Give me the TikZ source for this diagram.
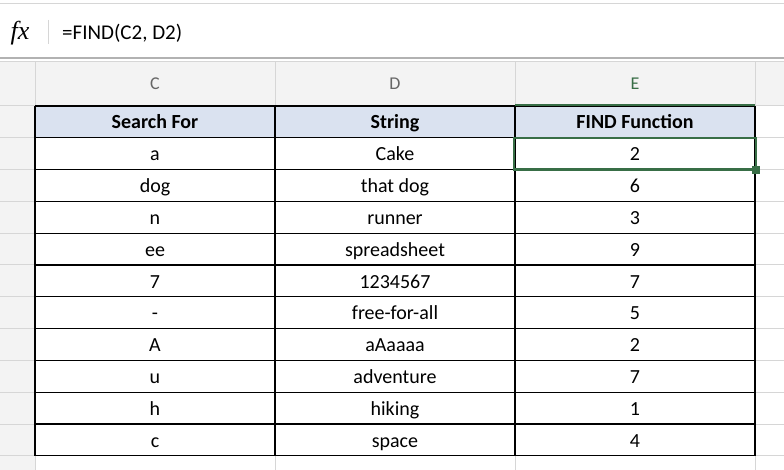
\documentclass[tikz,border=0pt]{standalone}
\usepackage{fontspec}
\setmainfont{Carlito}
\usepackage{tikz}
\definecolor{selgreen}{RGB}{56,110,70}
\definecolor{headblue}{RGB}{218,226,240}
\definecolor{gridgray}{RGB}{214,214,214}
\definecolor{barfill}{RGB}{243,243,243}
\begin{document}
\begin{tikzpicture}[x=1pt,y=-1pt,font=\fontsize{20}{22}\selectfont,
	cell/.style={anchor=base,inner sep=0pt},
	head cell/.style={cell,font=\fontsize{20}{22}\selectfont\bfseries},
	col letter/.style={cell,text=black!60,font=\fontsize{18}{20}\selectfont},
	grid line/.style={draw=gridgray,line width=1pt}]
	\useasboundingbox (0,0) rectangle (784,470);
	% formula bar and column header band
	\fill[white] (0,0) rectangle (784,58);
	\fill[barfill] (0,62) rectangle (784,106);
	\fill[barfill] (0,106) rectangle (35,470);
	\draw[grid line] (0,4) -- (784,4);
	\draw[draw=black!30,line width=1.5pt] (0,58) -- (784,58);
	\draw[grid line] (0,62) -- (784,62);
	\draw[grid line] (48,20) -- (48,44);
	\node[cell] (fx) at (20,40) {\fontspec{Liberation Serif}\itshape\fontsize{26}{28}\selectfont fx};
	\node[cell,anchor=base west] (formula) at (62,40) {\fontsize{21}{23}\selectfont =FIND(C2, D2)};
	% grid
	\foreach \x in {35,275,515,755}
		\draw[grid line] (\x,62) -- (\x,470);
	\foreach \i in {0,...,11}
		\draw[grid line] (0,106+31.8*\i) -- (784,106+31.8*\i);
	% column letters
	\node[col letter] (C) at (155,90) {C};
	\node[col letter] (D) at (395,90) {D};
	\node[col letter,text=selgreen] (E) at (635,90) {E};
	% header row
	\fill[headblue] (35,106) rectangle (755,137.8);
	\node[head cell] (h1) at (155,129) {Search For};
	\node[head cell] (h2) at (395,129) {String};
	\node[head cell] (h3) at (635,129) {FIND Function};
	% data rows
	\foreach \a/\b/\c [count=\i] in {a/Cake/2,dog/that dog/6,n/runner/3,ee/spreadsheet/9,
		7/1234567/7,-/free-for-all/5,A/aAaaaa/2,u/adventure/7,h/hiking/1,c/space/4}
	{
		\node[cell] (c\i) at (155,129+31.8*\i) {\a};
		\node[cell] (d\i) at (395,129+31.8*\i) {\b};
		\node[cell] (e\i) at (635,129+31.8*\i) {\c};
	}
	% table borders
	\foreach \i in {0,...,11}
		\draw[line width=1.2pt] (35,106+31.8*\i) -- (755,106+31.8*\i);
	\foreach \x in {35,275,515,755}
		\draw[line width=1.2pt] (\x,106) -- (\x,455.8);
	% selection
	\draw[selgreen,line width=2pt] (515,105) -- (755,105);
	\draw[selgreen,line width=2.5pt] (514,137.8) rectangle (756,169.6);
	\fill[selgreen] (752,165.6) rectangle (760,173.6);
\end{tikzpicture}
\end{document}
